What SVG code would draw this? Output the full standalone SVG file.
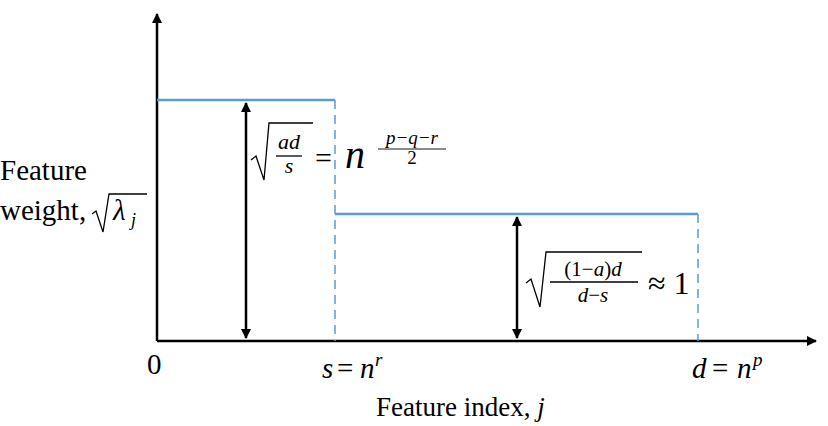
<svg xmlns="http://www.w3.org/2000/svg" width="828" height="426" viewBox="0 0 828 426">
<style>
text{font-family:"Liberation Serif","DejaVu Serif",serif;fill:#000}
.it{font-style:italic}
.ax{stroke:#000;stroke-width:2.5;fill:none}
.bl{stroke:#5b9bd5;stroke-width:2.5;fill:none}
.bd{stroke:#5b9bd5;stroke-width:1.5;stroke-dasharray:9,6;fill:none}
.ar{stroke:#000;stroke-width:2.5;fill:none}
.m{stroke:#000;stroke-width:1.3;fill:none}
</style>
<defs>
<marker id="ah" viewBox="0 0 10 10" refX="9" refY="5" markerWidth="4" markerHeight="4" orient="auto-start-reverse"><path d="M0,0L10,5L0,10z" fill="#000"/></marker>
</defs>
<g id="connectors">
<path class="ax" d="M157,341V14" marker-end="url(#ah)"/>
<path class="ax" d="M157,341H816" marker-end="url(#ah)"/>
<path class="bl" d="M157,100H335"/>
<path class="bd" d="M335,100V341"/>
<path class="bl" d="M335,214H698"/>
<path class="bd" d="M698,214V341"/>
<path class="ar" d="M246,103V338" marker-start="url(#ah)" marker-end="url(#ah)"/>
<path class="ar" d="M517,217V338" marker-start="url(#ah)" marker-end="url(#ah)"/>
</g>
<g id="label-left">
<path class="m" d="M251,160L256,156L264,180L269,123H313"/>
<text x="289" y="149" font-size="22" text-anchor="middle" class="it">ad</text>
<line class="m" x1="276" y1="156" x2="302" y2="156"/>
<text x="289" y="173" font-size="22" text-anchor="middle" class="it">s</text>
<text x="315" y="168" font-size="30">=</text>
<text x="345" y="168" font-size="40" class="it">n</text>
<text x="412" y="144" font-size="19" text-anchor="middle" class="it">p−q−r</text>
<line x1="378" y1="149" x2="446" y2="149" stroke="#000" stroke-width="0.9"/>
<text x="412" y="164" font-size="19" text-anchor="middle">2</text>
</g>
<g id="label-right">
<path class="m" d="M526,283L531,279L540,307L546,252H642"/>
<text x="593" y="276" font-size="21" text-anchor="middle">(1−<tspan class="it">a</tspan>)<tspan class="it">d</tspan></text>
<line class="m" x1="550" y1="282" x2="638" y2="282"/>
<text x="593" y="302" font-size="21" text-anchor="middle"><tspan class="it">d</tspan>−<tspan class="it">s</tspan></text>
<text x="648" y="294" font-size="32">≈ 1</text>
</g>
<g id="ylabel">
<text x="0" y="180" font-size="29">Feature</text>
<text x="0" y="220" font-size="29">weight,</text>
<path class="m" d="M92,214L96,211L103,232L109,194H147"/>
<text x="113" y="220" font-size="29" class="it">λ</text>
<text x="131" y="226" font-size="18" class="it">j</text>
</g>
<g id="ticks">
<text x="147" y="374" font-size="29">0</text>
<text x="322" y="378" font-size="29" class="it">s</text>
<text x="337" y="378" font-size="29">=</text>
<text x="360" y="378" font-size="29" class="it">n</text>
<text x="375" y="366" font-size="19" class="it">r</text>
<text x="692" y="378" font-size="29" class="it">d</text>
<text x="712" y="378" font-size="29">=</text>
<text x="737" y="378" font-size="29" class="it">n</text>
<text x="753" y="366" font-size="19" class="it">p</text>
</g>
<g id="xlabel">
<text x="376" y="416" font-size="27">Feature index, <tspan class="it">j</tspan></text>
</g>
</svg>
